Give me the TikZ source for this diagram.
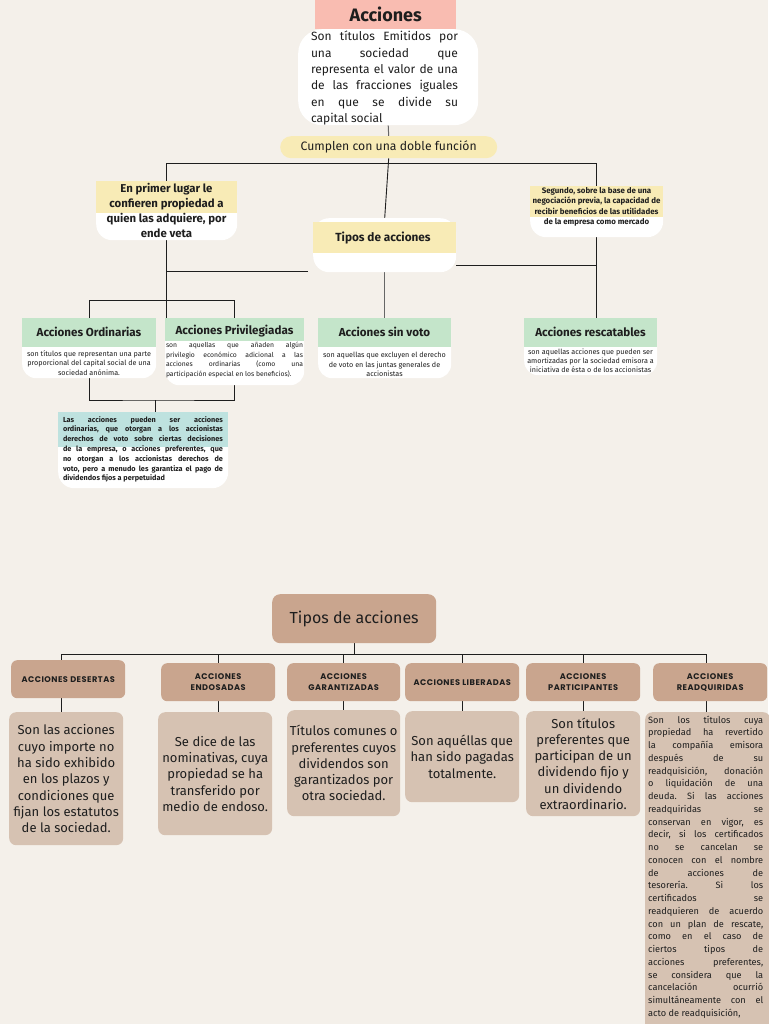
\documentclass[tikz,border=0pt]{standalone}
\usepackage{fontspec}
\setmainfont{Fira Sans}
\newfontfamily\popfont{Poppins}[LetterSpace=6.0]
\usetikzlibrary{calc}
\definecolor{bgc}{HTML}{F4F0EA}
\definecolor{pinkc}{HTML}{F9BCB1}
\definecolor{yelc}{HTML}{F8EBB6}
\definecolor{greenc}{HTML}{C4E5CA}
\definecolor{tealc}{HTML}{BEE2DF}
\definecolor{tanc}{HTML}{C9A58E}
\definecolor{tanl}{HTML}{D6C2B2}
\definecolor{inkc}{HTML}{1E1E1E}
\pgfdeclarelayer{back}
\pgfsetlayers{back,main}
\frenchspacing
\hyphenpenalty=10000
\exhyphenpenalty=10000
\begin{document}
\begin{tikzpicture}[x=1pt,y=-1pt,
  every node/.style={inner sep=0pt, text=inkc},
  link/.style={draw=inkc, line width=0.9pt},
  glink/.style={draw=gray!80!black, line width=1pt},
  whitebox/.style={fill=white, rounded corners=15pt, anchor=north west},
  gtitle/.style={font=\bfseries\fontsize{11.6}{13}\selectfont},
  gdesc/.style={align=center, font=\fontsize{7.2}{9.7}\selectfont},
  head/.style={fill=tanc, rounded corners=6pt, anchor=north west, minimum width=114pt, minimum height=38pt, align=center, font=\popfont\bfseries\fontsize{8.2}{11}\selectfont},
  descbox/.style={fill=tanl, rounded corners=7pt, anchor=north west, minimum width=114pt, align=center, font=\fontsize{13}{16.3}\selectfont},
]
\begin{pgfonlayer}{back}
\fill[bgc] (0,0) rectangle (768,1024);
\end{pgfonlayer}
\useasboundingbox (0,0) rectangle (768,1024);

% ---------- top part ----------
\node[fill=pinkc, anchor=north west, minimum width=141pt, minimum height=29pt, font=\bfseries\fontsize{18}{20}\selectfont] (title) at (315,0) {\raisebox{1.5pt}{Acciones}};

\node[whitebox, rounded corners=24pt, minimum width=180pt, minimum height=96pt] (def) at (298,29) {};
\node[anchor=north, text width=147pt, align=justify, font=\fontsize{12}{16.3}\selectfont] (deftext) at (384.5,31) {Son títulos Emitidos por\linebreak una sociedad que\linebreak representa el valor de una\linebreak de las fracciones iguales\linebreak en que se divide su\linebreak capital social};

\node[fill=yelc, rounded corners=11pt, anchor=north west, minimum width=217pt, minimum height=22pt, font=\fontsize{12.2}{14}\selectfont] (doble) at (280,136) {Cumplen con una doble función};

\node[whitebox, rounded corners=16pt, minimum width=141pt, minimum height=59pt] (primer) at (96,181) {};
\fill[yelc] (primer.north west) rectangle ++(141,32);
\node[align=center, font=\bfseries\fontsize{11.4}{15}\selectfont] (primertext) at (166.5,210.5) {En primer lugar le\\confieren propiedad a\\quien las adquiere, por\\ende veta};

\node[whitebox, rounded corners=16pt, minimum width=133pt, minimum height=51pt] (segundo) at (530,186) {};
\fill[yelc] (segundo.north west) rectangle ++(133,31);
\node[align=center, font=\bfseries\fontsize{7.9}{10.4}\selectfont] (segundotext) at (596.5,207) {Segundo, sobre la base de una\\negociación previa, la capacidad de\\recibir beneficios de las utilidades\\de la empresa como mercado};

\node[whitebox, rounded corners=16pt, minimum width=143pt, minimum height=54pt] (tipos) at (313,218) {};
\fill[yelc] (313,222) rectangle (456,253);
\node[font=\bfseries\fontsize{11.8}{13}\selectfont] (tipostext) at (383,238) {Tipos de acciones};

% green boxes
\node[whitebox, rounded corners=14pt, minimum width=134pt, minimum height=60pt] (ordin) at (22,318) {};
\fill[greenc] (22,318) rectangle (156,347);
\node[gtitle] (ordintitle) at (89,332) {Acciones Ordinarias};
\node[gdesc] (ordindesc) at (89,363) {son títulos que representan una parte\\proporcional del capital social de una\\sociedad anónima.};

\node[whitebox, rounded corners=14pt, minimum width=139pt, minimum height=67pt] (privil) at (165,318) {};
\fill[greenc] (165,318) rectangle (304,341);
\node[gtitle] (priviltitle) at (234.5,331) {Acciones Privilegiadas};
\node[anchor=north, text width=137pt, align=justify, font=\fontsize{6.8}{9.9}\selectfont] (privildesc) at (234.5,341.5) {\parfillskip=0pt son aquellas que añaden algún\linebreak privilegio económico adicional a las\linebreak acciones ordinarias (como una\linebreak participación especial en los beneficios).};

\node[whitebox, rounded corners=14pt, minimum width=133pt, minimum height=60pt] (sinvoto) at (318,318) {};
\fill[greenc] (318,318) rectangle (451,347);
\node[gtitle] (sinvototitle) at (384.5,332) {Acciones sin voto};
\node[gdesc] (sinvotodesc) at (384.5,364.5) {son aquellas que excluyen el derecho\\de voto en las juntas generales de\\accionistas};

\node[whitebox, rounded corners=14pt, minimum width=133pt, minimum height=57pt] (rescat) at (524,318) {};
\fill[greenc] (524,318) rectangle (657,347);
\node[gtitle] (rescattitle) at (590.5,332) {Acciones rescatables};
\node[gdesc, font=\fontsize{7.2}{9.2}\selectfont] (rescatdesc) at (590.5,360.5) {son aquellas acciones que pueden ser\\amortizadas por la sociedad emisora a\\iniciativa de ésta o de los accionistas};

\node[whitebox, rounded corners=16pt, minimum width=170pt, minimum height=76pt] (lasacc) at (58,412) {};
\fill[tealc] (58,412) rectangle (228,447);
\node[anchor=north, text width=160pt, align=justify, font=\bfseries\fontsize{7.3}{9.8}\selectfont] (lasacctext) at (143,416) {Las acciones pueden ser acciones\linebreak ordinarias, que otorgan a los accionistas\linebreak derechos de voto sobre ciertas decisiones\linebreak de la empresa, o acciones preferentes, que\linebreak no otorgan a los accionistas derechos de\linebreak voto, pero a menudo les garantiza el pago de\linebreak dividendos fijos a perpetuidad};

% top connectors
\begin{pgfonlayer}{back}
\draw[glink] (def.south) -- (doble.north);
\draw[link] (doble.south) -- (tipos.north);
\draw[link] (primer.north) -- ++(0,-18) -| (segundo.north);
\draw[link] (primer.south) -- (primer.south |- privil.north);
\coordinate (tl) at (308,271);
\draw[link] (tl) -- (tl -| primer.south);
\draw[link] ([yshift=7pt]tipos.south east) -- ([yshift=7pt]tipos.south east -| segundo.south);
\draw[link] (segundo.south) -- (segundo.south |- rescat.north);
\draw[glink] (tipos.south) -- (sinvoto.north);
\draw[link] (ordin.north) -- ++(0,-18) -| (privil.north);
\coordinate (lb) at (155,400);
\draw[link] (ordin.south) |- (lb) -| (privil.south);
\draw[link] (lb) -- (lb |- lasacc.north);
\end{pgfonlayer}

% ---------- bottom part ----------
\node[fill=tanc, rounded corners=8pt, anchor=north west, minimum width=164pt, minimum height=49pt, font=\fontsize{16}{18}\selectfont] (tipos2) at (272,594) {Tipos de acciones};

\node[head] (h1) at (11,660) {ACCIONES DESERTAS};
\node[head] (h2) at (161,663) {ACCIONES\\ENDOSADAS};
\node[head, minimum width=113pt] (h3) at (287,663) {ACCIONES\\GARANTIZADAS};
\node[head] (h4) at (405,663) {ACCIONES LIBERADAS};
\node[head] (h5) at (526,663) {ACCIONES\\PARTICIPANTES};
\node[head] (h6) at (653,663) {ACCIONES\\READQUIRIDAS};

\node[descbox, minimum height=133pt] (d1) at (9,712) {Son las acciones\\cuyo importe no\\ha sido exhibido\\en los plazos y\\condiciones que\\fijan los estatutos\\de la sociedad.};
\node[descbox, minimum height=123pt] (d2) at (158,712) {Se dice de las\\nominativas, cuya\\propiedad se ha\\transferido por\\medio de endoso.};
\node[descbox, minimum width=113pt, minimum height=106pt] (d3) at (287,710) {Títulos comunes o\\preferentes cuyos\\dividendos son\\garantizados por\\otra sociedad.};
\node[descbox, minimum height=91pt] (d4) at (405,711) {Son aquéllas que\\han sido pagadas\\totalmente.};
\node[descbox, minimum height=105pt] (d5) at (526,711) {Son títulos\\preferentes que\\participan de un\\dividendo fijo y\\un dividendo\\extraordinario.};
\node[fill=tanl, rounded corners=7pt, anchor=north west, minimum width=125pt, minimum height=330pt] (d6) at (645,712) {};
\node[anchor=north west, text width=115pt, align=justify, font=\fontsize{9.2}{12.75}\selectfont] (d6text) at (648,715.5) {\parfillskip=0pt Son los títulos cuya\linebreak propiedad ha revertido\linebreak la compañía emisora\linebreak después de su\linebreak readquisición, donación\linebreak o liquidación de una\linebreak deuda. Si las acciones\linebreak readquiridas se\linebreak conservan en vigor, es\linebreak decir, si los certificados\linebreak no se cancelan se\linebreak conocen con el nombre\linebreak de acciones de\linebreak tesorería. Si los\linebreak certificados se\linebreak readquieren de acuerdo\linebreak con un plan de rescate,\linebreak como en el caso de\linebreak ciertos tipos de\linebreak acciones preferentes,\linebreak se considera que la\linebreak cancelación ocurrió\linebreak simultáneamente con el\linebreak acto de readquisición,};

\begin{pgfonlayer}{back}
\coordinate (bus) at (0,654);
\draw[link] (tipos2.south) -- (tipos2.south |- bus);
\draw[link] ([xshift=-7pt]h1.north |- bus) -- ([xshift=-4pt]h6.north |- bus);
\draw[link] ([xshift=-7pt]h1.north |- bus) -- ([xshift=-7pt]h1.north);
\foreach \h in {h2,h3,h4,h5} {\draw[link] (\h.north |- bus) -- (\h.north);}
\draw[link] ([xshift=-4pt]h6.north |- bus) -- ([xshift=-4pt]h6.north);
\draw[link] ([xshift=-7pt]h1.south) -- ([xshift=-7pt]h1.south |- d1.north);
\draw[link] (h2.south) -- (h2.south |- d2.north);
\draw[link] (h3.south) -- (h3.south |- d3.north);
\draw[link] (h4.south) -- (h4.south |- d4.north);
\draw[link] (h5.south) -- (h5.south |- d5.north);
\draw[link] ([xshift=-4pt]h6.south) -- ([xshift=-4pt]h6.south |- d6.north);
\end{pgfonlayer}
\end{tikzpicture}
\end{document}
